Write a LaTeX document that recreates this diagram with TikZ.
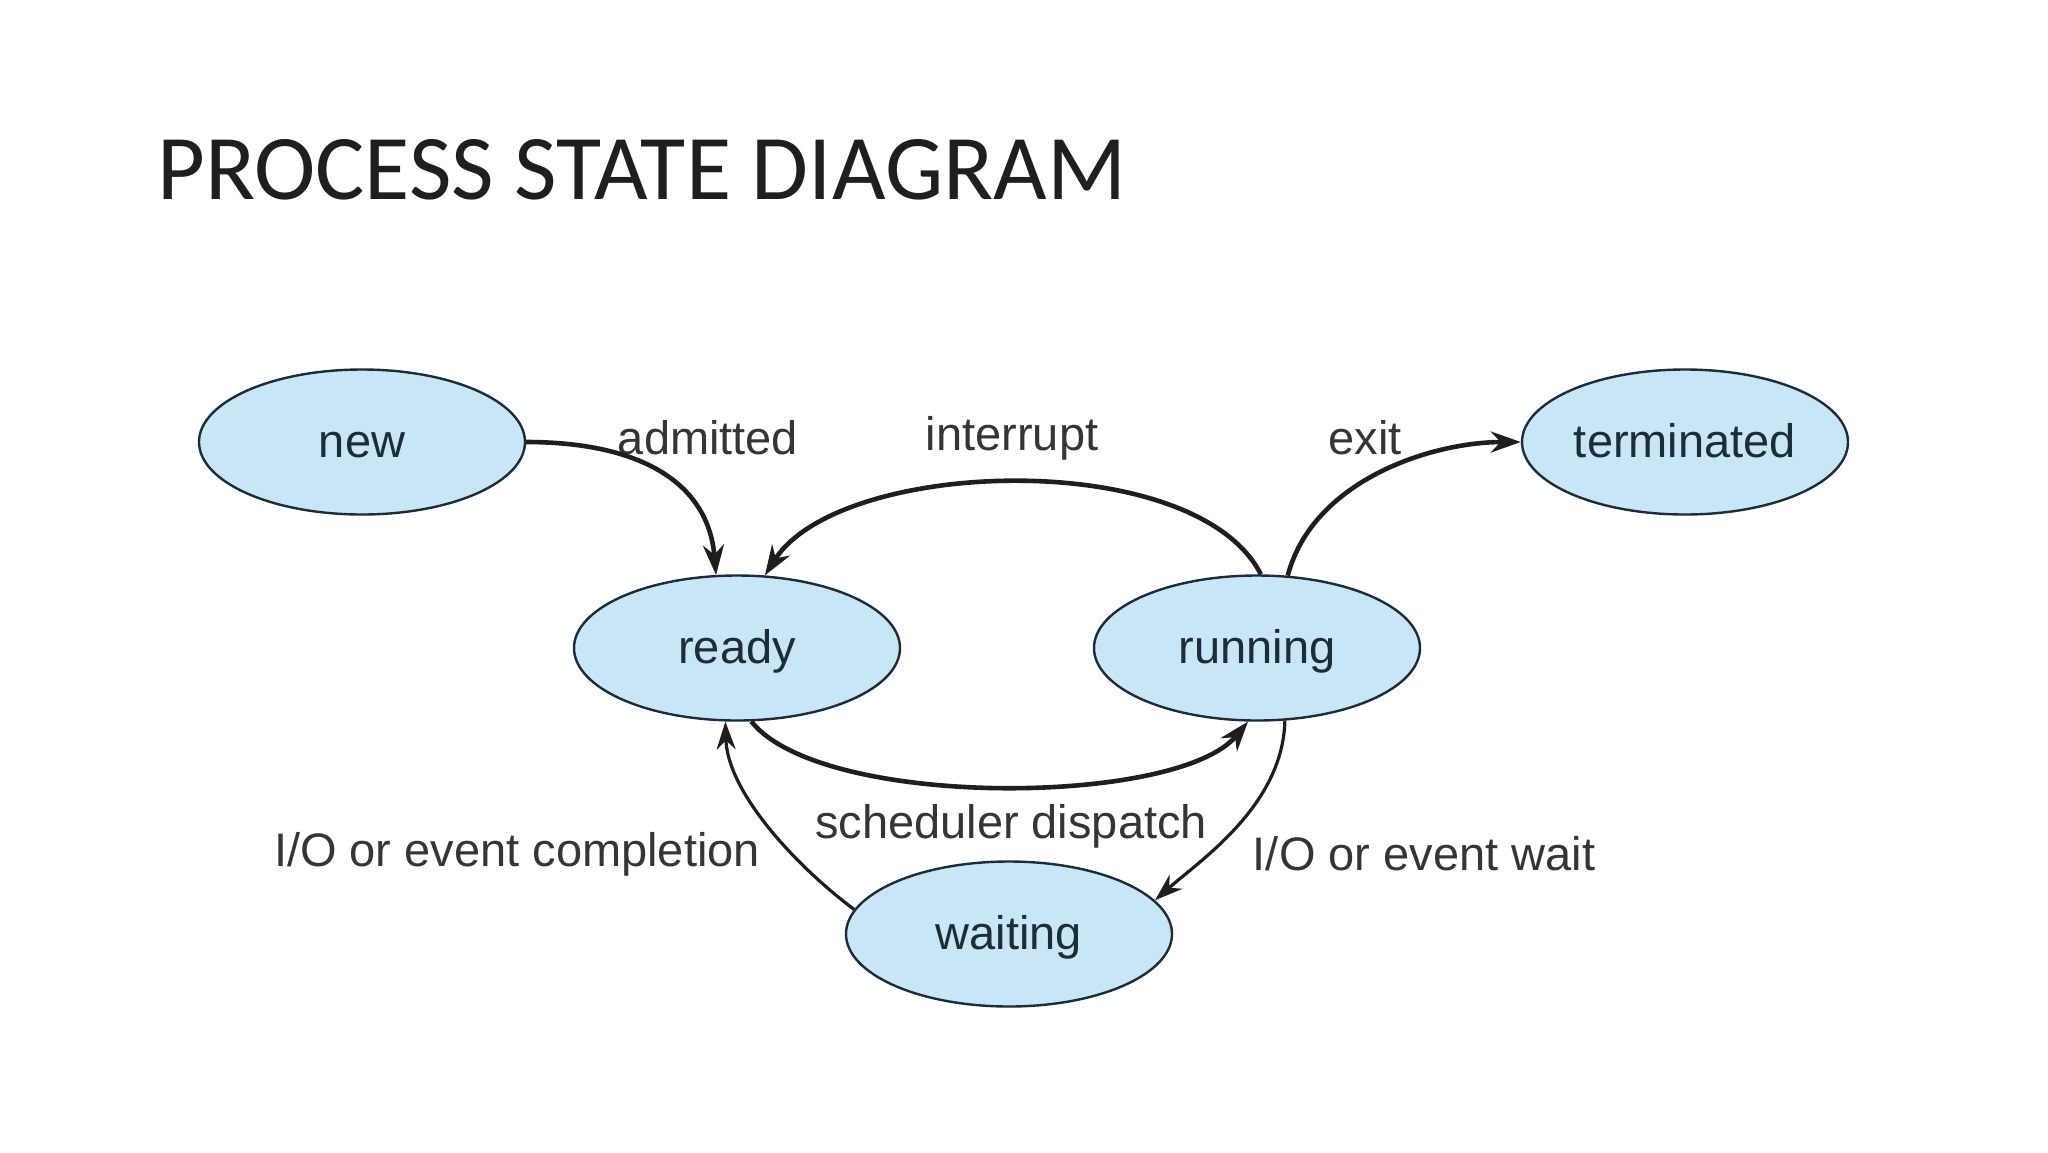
\documentclass[tikz,border=0pt]{standalone}
\usepackage{fontspec}
\setmainfont{Liberation Sans}
\newfontfamily\titlefont{Carlito}
\usetikzlibrary{shapes.geometric,arrows.meta}
\definecolor{statefill}{HTML}{C8E6F6}
\definecolor{statetext}{HTML}{1B2C3A}
\definecolor{linecol}{HTML}{1E1E1E}
\begin{document}
\begin{tikzpicture}[x=1pt,y=-1pt,
  state/.style={ellipse, draw=statetext, line width=2.4pt, fill=statefill,
    minimum width=326pt, minimum height=145pt, inner sep=0pt,
    text height=36pt, text depth=5pt,
    text=statetext, font=\fontsize{47}{50}\selectfont},
  lbl/.style={text=linecol!90, font=\fontsize{47}{50}\selectfont, inner sep=0pt},
  conn/.style={draw=linecol, line width=4.6pt, -{Stealth[length=30pt,width=21pt]}},
  thinconn/.style={draw=linecol, line width=3.2pt, -{Stealth[length=28pt,width=19pt]}}
]
\useasboundingbox[fill=white] (0,0) rectangle (2048,1152);

\node[anchor=base west, inner sep=0pt, text=black!88,
  font=\titlefont\fontsize{92.5}{100}\selectfont] (title) at (157,199) {PROCESS STATE DIAGRAM};

\node[state] (new) at (362,442) {new};
\node[state] (term) at (1685,442) {terminated};
\node[state] (ready) at (737,648) {ready};
\node[state] (run) at (1257,648) {running};
\node[state] (wait) at (1009,934) {waiting};

\node[lbl] (ladm) at (708,438) {admitted};
\node[lbl] (lint) at (1012,438) {interrupt};
\node[lbl] (lexit) at (1365,438) {exit};
\node[lbl] (lsch) at (1011,826) {scheduler dispatch};
\node[lbl] (lwait) at (1424,854) {I/O or event wait};
\node[lbl] (lcomp) at (517,854) {I/O or event completion};

% admitted
\draw[conn] (new.east) .. controls +(110,0) and +(-8,-95) .. (ready.106);
% interrupt
\draw[conn] (run.87) .. controls +(-65,-128) and +(75,-118) .. (ready.69);
% exit
\draw[conn] (run.67) .. controls +(25,-95) and +(-90,0) .. (term.west);
% scheduler dispatch
\draw[conn] (ready.281) .. controls +(70,88) and +(-70,85) .. (run.263);
% I/O or event wait
\draw[thinconn] (run.291) .. controls +(-2,85) and +(45,-40) .. (wait.13);
% I/O or event completion
\draw[thinconn] (wait.171) .. controls +(-60,-45) and +(2,70) .. (ready.261);
\end{tikzpicture}
\end{document}
